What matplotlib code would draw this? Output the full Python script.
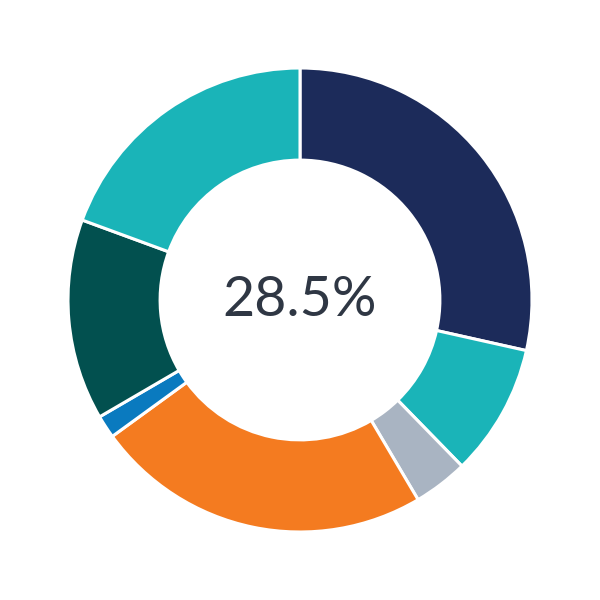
import matplotlib
matplotlib.use("Agg")
import matplotlib.pyplot as plt

labels = ["A", "B", "C", "D", "E", "F", "G"]
values = [28.5, 9.2, 3.8, 23.5, 1.6, 14.0, 19.4]
colors = ["#1c2b5a", "#1ab4b8", "#a9b4c2", "#f47b20", "#0a7abf", "#02504f", "#1ab4b8"]
center_text = "28.5%"

fig = plt.figure(figsize=(6, 6), dpi=100)
ax = fig.add_axes([0, 0, 1, 1])
ax.pie(values, colors=colors, startangle=90, counterclock=False, radius=1.0,
       wedgeprops=dict(width=0.397, edgecolor="white", linewidth=2.2))
lim = 300 / 232
ax.set_xlim(-lim, lim)
ax.set_ylim(-lim, lim)
ax.set_aspect("equal")
ax.axis("off")
ax.text(0, 0, center_text, ha="center", va="center", fontsize=40,
        family=["Lato", "DejaVu Sans"], color="#2f3744")
fig.savefig("out.png", dpi=100)
